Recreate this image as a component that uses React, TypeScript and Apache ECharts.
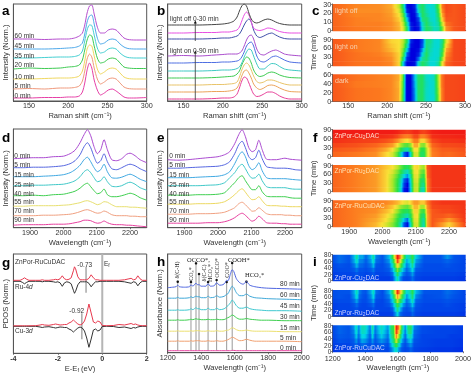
import React, { useEffect, useRef } from "react";
import * as echarts from "echarts";

const SANS = "'Liberation Sans', Arial, sans-serif";
const SERIF = "'Liberation Serif', serif";

// panel a
const aX = [130,150,170,190,200,208,214,218,221,224,227,230,233,237,241,246,251,256,261,266,271,276,285,300];
const a0 = [3,3,3.5,3.5,4,4,5,9,18,31,38,33,21,11,6,8,11,12,10,7,4,3,3,3.5];
const a5 = [12,12.5,12,13,13,13.5,15,20,30,42,47,44,33,22,17,19,22,23,22,18,14,12.5,12,12];
const a10 = [22,22,22.5,23,23,23.5,25,30,40,52,56,55,45,32,27,29,32,33,32,28,24,22.5,22,22];
const a20 = [32,33,32.5,33,34,34.5,36,41,51,61,66,65,55,43,38,39,42,43,42,38,34,33,32.5,32.5];
const a35 = [43,43,43.5,44,44,44.5,46,50,60,71,76,75.5,66,53,48,49,52,53,52,48,45,43.5,43,43];
const a45 = [52,52,52,52.5,53,53.5,55,58,67,79,85,86,77,63,57,58,61,62,61,57,54,52.5,52,52];
const a60 = [62,62,61.5,62,62,63,65,68,76,88,95,96,87,74,68,68,71,72,71,67,63,61.5,61,61];

// panel b
const bX = [130,150,170,190,200,208,214,218,221,224,227,230,233,236,239,243,247,252,257,262,267,272,278,285,300];
const bBlack = [76,76,76,76.5,77,78,80,84,90,95,97,95,88,82,79,78,79,81,82,81,79,77.5,76.5,76,76];
const bMagenta = [68,68,68.5,68.5,69,69,70,71,74,80,86,89,86,79,73,71,70.5,71.5,73,72.5,71,69.5,68.5,68,68];
const bNavy = [62,62,62,62.5,63,63,64,65,67,71,76,80,82,79,71,65,63.5,65,67,68,66,64,62.5,62,62];
const bPurple = [45,45.5,45,46,46.5,47,47,47,48,50,55,61,65,66,62,52,47,46,48,50,51,49.5,47,46,45];
const bBlue = [38,38,38.5,38.5,39,39,39.5,40,41,44,49,55,58,59,55,45,40,39,41,44,45,43.5,41,39,38];
const bTeal = [30,30,30,30.5,31,31,31.5,32.5,34,38,44,49,52,51,45,37,32,32,35,37.5,37,34.5,32,31,30];
const bGreen = [23,23,23,23.5,24,24.5,25,27,30,36,41,44,43,38,31,26,24.5,25.5,28,29,28,26,24.5,23.5,23];
const bYellow = [16,16,16,16.5,16.5,17,17.5,19,24,31,36,38,36,31,25,19.5,18,19,21,21,20,18.5,17,16,16];
const bOrange = [9,9,9,9.5,9.5,10,11,13,18,25,30,31,28,23,17,13,11.5,13,15.5,16,15,13,11,9.5,9];
const bPink = [2,2,2,2.5,3,3,4,7,13,20,24,23,18,12,7,4.5,5,7,9,9,7.5,5,3,2,2];

// panels d and e
const dX = [1850,1880,1910,1940,1970,2000,2020,2035,2050,2062,2072,2082,2092,2102,2112,2122,2132,2145,2160,2175,2190,2200,2215,2230,2250];
const d0 = [69,69.5,70,70,71,71.5,74,77.5,85,93,98,92,81,74,78,88,78,68,67,69,73.5,74.5,72,68,65];
const d5 = [60,60,60.5,60.5,61,62,64,67,73,81,85,80,71,64.5,67,74,66,59,58,60,62.5,63.5,62,59,56];
const d15 = [51,51,51,51.5,52,53,55,58,62.5,68,70.5,66,60,56,58,63.5,56,50,49.5,50.5,52.5,53.5,51.5,48.5,46];
const d25 = [42,42,42.5,42.5,43,43.5,45,47,51,56,58,55,50,46,47,51,46,41.5,41,42,44.5,45.5,43.5,40,37.5];
const d40 = [32,32,32.5,32,33,33.5,35,36.5,39.5,43,44.5,41,37,34,35,38.7,33,31,31,32,33.5,34.5,33,30,27.5];
const d55 = [21.5,21.5,22,22,22,22.5,23,24,25,26.5,27,26,24.5,23,24,26,25.5,23,21,21,21,20.5,20.5,20,19.5];
const d70 = [12,12,12,12.5,12.5,13,13.5,14.5,16,17.5,18,17,15.5,14.5,15,16.7,15.5,13,12,12,12,11.5,11.5,11,11];
const d90 = [2.5,3,3,3,3.5,3.5,4,5,6,7.5,7.5,7,5.5,4.5,5,6.7,5,3.5,3,3,2.5,2.5,2,1.5,1];
const e0 = [68,67.5,68,69,70,71,73,76,84,93,98,91,80,76,78,87.5,78,68.5,68,68,69,69.5,68.5,68,67.5];
const e5 = [59.5,59.5,60,60.5,61,61.5,63,66,74,83,86.5,80,71,68,70,77.5,69,61,60,59.5,59.5,59.5,59,58,57.5];
const e15 = [50,50,50,50.5,51,51.5,53,56,64,72,76,71,62,58,60,65,57,50,49,49,49,49,48.5,48,47.5];
const e25 = [42,42,42,42,42.5,43,45,50,55,61,63.5,59,53,49.5,50,53.5,47,41,40,40,40,40,39,38.5,38.5];
const e40 = [32.5,32.5,32.5,33,33,33.5,35,40,45,50,52,47,42,38,38,42,36,31.5,31,31,31,31,30,29.5,29.5];
const e55 = [23.5,23.5,23.5,24,24,24.5,26,29,33,37,39,35.5,31,28,28.5,31,27,22.5,22,22,21.5,21.5,21,21,21];
const e70 = [13.5,13.5,13.5,14,14,14.5,15.5,17.5,20,24,25.5,23,19.5,16.5,17,20,17.5,14,13,13,13,12.5,12.5,12,12];
const e90 = [4.5,4.5,4.5,4.5,5,5,6,7.5,10,13,14.5,12.5,9,6.5,8,11.5,9,5,4.5,4.5,4,4,3.5,3.5,3.5];

// panel g
const gX = [-4,-3.7,-3.6,-3.5,-3.4,-3.3,-3,-2.8,-2.7,-2.6,-2.4,-2.2,-2.1,-2,-1.9,-1.8,-1.7,-1.6,-1.5,-1.4,-1.3,-1.25,-1.2,-1.1,-1,-0.9,-0.8,-0.7,-0.6,-0.5,-0.4,-0.3,-0.2,-0.1,0,0.2,0.5,0.75,1,1.2,1.3,1.4,1.5,1.6,1.7,1.8,2];
const ruUp = [73,73,74,75.5,74,73,73,73,73.5,73,73,73.5,74,73.5,74.5,77.5,74.5,73.5,74,75.5,82.5,86.5,84.5,76.5,73.5,73.5,73.5,73.5,75,78.5,75.5,73.5,73.5,73,73,73,73,73,73.5,74.5,75,73.5,74,77.5,74.5,73,73];
const ruDown = [72,72,71,69.5,71,72,72,72,71.5,72,72,71.5,71,71.5,70.5,67,70.5,71.5,71,69.5,63,60,62,68.5,71.5,71.5,71.5,71.5,70,66.5,69.5,71.5,71.5,72,72,72,72,72,71.5,70.5,70,71.5,71,67.5,70.5,72,72];
const cuUp = [27.5,27.5,27.5,27.5,27.5,27.5,27.6,28.3,28.8,28.3,28,28.8,29.3,28.8,28.3,28.5,28.8,28.8,30.3,31.3,33.3,32.3,31.3,29.3,28.3,29.3,32.3,39.3,49.3,40.3,31.3,30.3,32.3,31.3,27.8,27.6,27.8,28.8,28.3,29.3,29.8,28.8,29.3,28.3,27.8,27.6,27.6];
const cuDown = [27,27,27,27,27,27,27,26.3,25.8,26.3,26.6,25.8,25.3,25.8,26.3,26.1,25.8,25.8,24.3,23.3,21.3,22.3,23.3,25.3,26.3,25.3,22.3,15.3,6,14.3,23.3,24.3,22.3,23.3,26.8,27,26.8,25.8,26.3,25.3,24.8,25.8,25.3,26.3,26.8,27,27];

// panel h
const hX = [1200,1230,1250,1260,1270,1300,1330,1339,1350,1369,1378,1387,1400,1428,1441,1455,1478,1492,1510,1530,1543,1552,1560,1575,1585,1595,1610,1630,1650,1670,1690,1720,1760,1800,1900,2000];
const h80 = [65,65.5,66,67.5,66,65.5,66,68,66.5,69.5,68,68,66.5,66.5,69,66.5,67,70,67.5,68,70,72.5,72,79,83,81,74,70,68.5,71,67.5,66,65,64.5,64,63.5];
const h60 = [54.5,54.5,54.5,55.5,54.5,54.5,55,56,55,56.5,56,56,55,55,56.5,55,55.5,57,55.5,56,57,58.5,59,64,66.5,65,60,57,57,58.7,56.5,55,54.5,54,53.5,53];
const h45 = [42.5,42.5,42.5,43,42.5,42.5,43,44,43,45,44,44,43,43,44.5,43,43,44.5,43,43.5,44.5,46,47,50,52.7,51,47,44.5,44.5,45.7,44,43,42.5,42,42,41.5];
const h30 = [32.5,32.5,32.5,33,32.5,32.5,33,33.5,33,34,33.5,33.5,33,33,33.5,33,33,33.5,33,33,33.5,34.5,35,36.5,37.7,37,35,33.5,33.5,34.2,33.5,33,32.5,32.5,32,32];
const h15 = [21.5,21.5,21.5,22,21.5,21.5,21.5,22,21.5,22,22,22,21.5,21.5,22,21.5,21.5,22,21.5,21.5,22,22.5,22.5,24,25,24.5,23,22,22,22.7,22,21.5,21.5,21.5,21,21];
const h5 = [11.5,11.5,11.5,12,11.5,11.5,11.5,12,11.5,12,12,12,11.5,11.5,12,11.5,11.5,12,11.5,11.5,12,12.5,13,14.5,15.5,15,13.5,12,12.3,13.5,12.5,11.5,11.5,11.5,11.5,11];
const h0 = [2,2,2,2,2,2,2,2,2,2,2,2,2,2,2,2,2,2,2,2,2,2,2,2,2.3,2.3,2,2,2,2,2,2,2,2,2,2];
const hPeakX = [1260,1339,1369,1387,1441,1492,1552,1585,1670];
const hPeakTop = [71,70.7,89.4,78.7,70.7,72.7,70.7,89.7,71];

// heat maps: each row runs from the top of its panel to the bottom
const cX = [130,160,190,205,215,220,225,230,235,240,245,250,255,260,265,270,275,285,300];
const cOff = [
  [88,83,82,78,62,40,2,0,5,35,42,30,27,30,50,85,92,90,92],
  [88,82,82,79,66,45,5,0,3,30,42,32,27,28,46,82,92,90,92],
  [88,83,83,80,70,52,15,0,1,20,42,35,28,27,42,78,91,90,92],
  [88,84,83,81,73,58,25,0,0,10,38,40,30,27,38,72,90,90,92],
  [88,84,84,82,76,63,35,3,0,6,30,42,33,28,34,62,86,90,92],
  [88,85,84,82,77,66,42,5,0,3,28,42,38,30,32,52,82,90,92],
];
const cOn = [
  [90,85,83,72,70,62,42,5,0,0,10,38,36,28,27,36,66,92,93],
  [90,85,83,74,70,60,35,2,0,0,12,38,34,28,27,38,72,92,93],
  [90,85,83,76,70,55,25,0,0,2,20,40,32,27,28,42,78,92,93],
  [90,86,84,80,72,50,12,0,0,5,28,42,30,27,28,46,82,92,93],
  [90,86,85,82,72,40,5,0,0,15,35,40,28,27,30,55,85,92,93],
  [90,86,85,83,72,25,0,0,2,30,42,36,27,27,34,68,88,92,93],
];
const cDark = [
  [90,86,84,83,78,55,0,0,20,40,42,30,27,30,55,85,92,92,93],
  [90,85,84,83,77,52,0,0,18,40,42,31,27,29,54,85,92,92,93],
  [90,86,85,83,78,50,0,0,16,40,42,30,27,29,52,84,92,92,93],
  [90,86,85,83,78,48,0,0,15,40,42,30,27,28,50,84,92,92,93],
];
const fX = [1850,1920,1980,2010,2030,2045,2055,2065,2075,2085,2095,2105,2115,2125,2135,2150,2180,2200,2250];
const fCu = [
  [99,99,99,99,99,98,96,95,94,95,97,97,94,93,95,98,99,99,99],
  [98,97,97,96,95,92,88,85,84,86,92,92,84,84,88,96,97,97,98],
  [96,94,93,91,88,82,76,72,70,75,85,85,72,72,80,92,95,95,96],
  [93,91,88,84,80,70,60,52,50,58,78,78,58,55,72,88,92,92,93],
  [90,88,84,78,70,58,45,36,32,45,70,70,46,44,66,85,89,89,91],
  [88,85,82,72,65,50,32,12,4,30,65,66,42,42,66,84,88,87,90],
];
const fRu = [
  [88,84,80,74,70,62,52,45,42,50,70,72,62,58,90,95,95,95,95],
  [88,84,80,72,66,55,45,35,30,42,68,70,55,50,88,95,95,95,95],
  [88,84,80,72,62,50,38,25,18,35,66,68,50,45,88,95,95,95,95],
  [88,84,80,72,60,46,32,12,5,30,64,66,42,40,85,95,95,95,95],
  [88,84,80,72,60,45,30,8,0,28,62,64,40,35,85,95,95,95,95],
  [88,84,80,72,60,45,28,3,0,25,62,64,35,30,85,95,95,95,95],
];
const fRuCu = [
  [88,84,84,83,80,76,72,68,66,72,80,80,74,74,85,93,95,95,95],
  [88,84,83,80,74,66,58,54,52,60,76,76,60,60,82,92,93,93,95],
  [88,84,82,76,70,58,48,44,42,50,72,72,50,46,80,90,92,92,95],
  [88,84,80,72,64,50,42,36,32,44,68,70,44,38,78,90,90,88,95],
  [88,84,78,70,60,46,36,22,14,38,66,68,42,32,78,90,86,80,95],
  [88,84,76,66,56,44,30,10,2,32,64,66,42,30,78,90,80,72,93],
];
const iX = [1200,1240,1300,1330,1345,1360,1380,1400,1430,1445,1460,1500,1540,1560,1575,1590,1605,1625,1645,1665,1680,1700,1750,1850,1890,1930,2000];
const iCu = [
  [10,14,11,22,35,20,20,13,22,34,16,11,22,45,72,100,85,55,28,34,46,24,11,11,18,11,9],
  [10,14,11,20,30,17,16,12,19,29,14,11,18,36,60,92,72,42,20,28,42,19,11,11,13,11,9],
  [9,11,10,15,22,14,13,11,15,22,11,10,14,28,48,72,55,32,16,22,35,15,10,10,11,10,9],
  [9,10,10,12,15,11,11,10,12,15,10,10,12,20,36,55,38,22,13,18,26,12,10,10,10,10,9],
  [8,9,9,10,12,10,10,9,10,12,9,9,10,14,26,42,26,15,11,13,19,10,9,9,9,9,8],
  [8,8,8,9,10,9,9,8,9,10,8,8,8,10,20,32,18,10,9,10,14,9,8,8,8,8,7],
];
const iRu = [
  [10,11,11,20,32,16,12,11,20,30,14,10,20,42,66,97,78,50,26,32,44,22,11,11,14,12,9],
  [10,11,10,18,28,14,11,10,17,26,12,10,16,32,54,80,62,38,18,27,39,17,10,11,13,11,9],
  [9,10,10,14,20,12,10,10,14,20,10,9,13,24,42,62,46,28,14,20,31,13,10,10,11,10,9],
  [8,9,9,11,14,10,9,9,11,14,9,9,11,17,30,47,32,18,12,15,23,11,9,9,10,9,8],
  [8,9,9,10,11,9,9,9,9,11,9,9,9,12,22,36,22,12,10,12,16,10,9,9,9,9,8],
  [8,8,8,9,9,9,8,8,8,9,8,8,8,9,16,26,14,10,9,9,13,9,8,8,8,8,7],
];
const iRuCu = [
  [9,13,11,18,30,16,32,30,15,35,15,30,18,42,45,100,85,40,16,40,42,16,10,9,9,9,8],
  [9,13,11,16,28,15,30,28,14,30,14,28,16,38,46,96,74,34,15,35,38,14,10,9,9,9,8],
  [9,12,11,14,24,13,26,24,12,26,12,24,14,34,45,85,60,28,13,28,32,13,9,9,9,8,8],
  [8,11,10,12,18,11,20,18,11,18,11,18,12,28,40,65,44,20,11,20,24,11,9,8,8,8,7],
  [8,9,9,11,14,10,14,13,10,14,10,13,10,21,32,47,30,14,10,14,18,10,9,8,8,8,7],
  [7,8,8,10,10,9,10,10,9,10,9,10,9,15,22,31,19,11,9,10,13,9,8,7,7,7,6],
];

const ramanTicks = [150, 200, 250, 300];
const waveTicks = [1900, 2000, 2100, 2200];
const aTimes = ["60 min", "45 min", "35 min", "20 min", "10 min", "5 min", "0 min"];
const dTimes = ["0 min", "5 min", "15 min", "25 min", "40 min", "55 min", "70 min", "90 min"];
const hTimes = ["80 min", "60 min", "45 min", "30 min", "15 min", "5 min", "0 min"];

const RAMP: [number, number[]][] = [
  [0, [0, 0, 222]], [12, [0, 90, 235]], [25, [0, 215, 230]], [45, [40, 225, 70]],
  [60, [170, 230, 40]], [70, [250, 225, 55]], [85, [252, 120, 30]], [100, [240, 20, 20]],
];
function ramp(v: number): string {
  for (let i = 1; i < RAMP.length; i++) {
    if (v <= RAMP[i][0]) {
      const [a, ca] = RAMP[i - 1];
      const [b, cb] = RAMP[i];
      const t = (v - a) / (b - a);
      return `rgb(${ca.map((c, k) => Math.round(c + (cb[k] - c) * t)).join(",")})`;
    }
  }
  return "rgb(240,20,20)";
}
function gradientStops(xs: number[], row: number[]) {
  const span = xs[xs.length - 1] - xs[0];
  const stops: { offset: number; color: string }[] = [];
  for (let i = 0; i < xs.length - 1; i++) {
    for (let k = 0; k < 5; k++) {
      const t = k / 5;
      stops.push({ offset: (xs[i] + (xs[i + 1] - xs[i]) * t - xs[0]) / span, color: ramp(row[i] + (row[i + 1] - row[i]) * t) });
    }
  }
  stops.push({ offset: 1, color: ramp(row[row.length - 1]) });
  return stops;
}

const grids: any[] = [];
const xAxes: any[] = [];
const yAxes: any[] = [];
const series: any[] = [];
const TICK = { color: "#333", fontSize: 7.2, fontFamily: SANS };
const NAME = { color: "#333", fontSize: 7.6, fontFamily: SANS };
const plain = (v: number) => String(v);

function panel(o: {
  left: number; top: number; right: number; bottom: number;
  xMin: number; xMax: number; xTicks?: number[]; xInterval?: number; xName?: string; showX?: boolean; xGap?: number; xMargin?: number;
  yMax: number; yInterval?: number; yName?: string; yGap?: number; frame?: boolean; xBold?: boolean; nameRich?: any; ySize?: number;
}) {
  const idx = grids.length;
  grids.push({
    left: o.left, top: o.top, width: o.right - o.left, height: o.bottom - o.top,
    show: o.frame !== false, borderColor: "#555", borderWidth: 1, backgroundColor: "transparent", containLabel: false,
  });
  const showX = o.showX !== false;
  xAxes.push({
    type: "value", gridIndex: idx, min: o.xMin, max: o.xMax, interval: o.xInterval,
    name: o.xName, nameLocation: "middle", nameGap: o.xGap ?? 10.8,
    nameTextStyle: { ...NAME, rich: o.nameRich },
    axisLine: { show: true, onZero: false, lineStyle: { color: "#555", width: 1 } },
    axisTick: { show: showX, length: 1.5, inside: false, lineStyle: { color: "#555", width: 0.8 }, ...(o.xTicks ? { customValues: o.xTicks } : {}) },
    axisLabel: { show: showX, margin: o.xMargin ?? 1.2, ...TICK, formatter: plain, fontWeight: o.xBold ? "bold" : "normal", hideOverlap: false, ...(o.xTicks ? { customValues: o.xTicks } : {}) },
    splitLine: { show: false },
  });
  const hasTicks = o.yInterval !== undefined;
  yAxes.push({
    type: "value", gridIndex: idx, min: 0, max: o.yMax, interval: o.yInterval,
    name: o.yName, nameLocation: "middle", nameGap: o.yGap ?? 4.4,
    nameTextStyle: NAME,
    axisLine: { show: true, onZero: false, lineStyle: { color: "#555", width: 1 } },
    axisTick: { show: hasTicks, length: 1.5, lineStyle: { color: "#555", width: 0.8 } },
    axisLabel: { show: hasTicks, margin: 1.5, ...TICK, fontSize: o.ySize ?? 7.2, hideOverlap: false, showMinLabel: true, showMaxLabel: true, formatter: plain },
    splitLine: { show: false },
  });
  return idx;
}
function line(g: number, xs: number[], ys: number[], color: string, width = 1, smooth: number | boolean = 0.25) {
  series.push({
    type: "line", xAxisIndex: g, yAxisIndex: g, data: xs.map((x, i) => [x, ys[i]]),
    symbol: "none", smooth, clip: true, lineStyle: { color, width }, silent: true, z: 3,
  });
}
function heat(g: number, xs: number[], rows: number[][], yMax: number) {
  const rowData = rows.map((_, i) => [xs[0], yMax - (yMax * i) / rows.length, yMax - (yMax * (i + 1)) / rows.length, i]);
  series.push({
    type: "custom", xAxisIndex: g, yAxisIndex: g, coordinateSystem: "cartesian2d", data: rowData, encode: { x: 0, y: 1 }, silent: true, z: 2,
    renderItem: (_p: any, api: any) => {
      const a = api.coord([xs[0], api.value(1)]);
      const b = api.coord([xs[xs.length - 1], api.value(2)]);
      return {
        type: "rect",
        shape: { x: a[0], y: a[1], width: b[0] - a[0], height: b[1] - a[1] + 0.6 },
        style: { fill: new echarts.graphic.LinearGradient(0, 0, 1, 0, gradientStops(xs, rows[api.value(3)])) },
      };
    },
  });
}

const L1 = 12.7, R1 = 146.7, L2 = 167.7, R2 = 301.7, L3 = 332.7, R3 = 465.7;
const CM = "(cm⁻¹)";
const TG = 15;

// a
let g = panel({ left: L1, right: R1, top: 4, bottom: 101, xMin: 130, xMax: 300, xTicks: ramanTicks, xName: `Raman shift ${CM}`, yMax: 97, yName: "Intensity (Norm.)" });
[[a0, "#e63fa6"], [a5, "#f0997c"], [a10, "#f0d860"], [a20, "#3ecb52"], [a35, "#45d0d2"], [a45, "#4fa9ea"], [a60, "#b64fcf"]].forEach(([d, c]: any) => line(g, aX, d, c));
// b
g = panel({ left: L2, right: R2, top: 4, bottom: 101, xMin: 130, xMax: 300, xTicks: ramanTicks, xName: `Raman shift ${CM}`, yMax: 97, yName: "Intensity (Norm.)" });
[[bPink, "#e63f98"], [bOrange, "#eba35a"], [bYellow, "#e8c368"], [bGreen, "#3ecb52"], [bTeal, "#3fc9c2"], [bBlue, "#4f6fe2"], [bPurple, "#aa4dcc"], [bNavy, "#3f4fa8"], [bMagenta, "#e84fe2"], [bBlack, "#444444"]].forEach(([d, c]: any) => line(g, bX, d, c));
series.push({ type: "line", xAxisIndex: g, yAxisIndex: g, symbol: "none", silent: true, z: 4, lineStyle: { color: "#333", width: 0.8 }, data: [{ value: [165, 60] }, { value: [165, 79], symbol: "triangle", symbolSize: 3, itemStyle: { color: "#111" } }] });
series.push({ type: "line", xAxisIndex: g, yAxisIndex: g, symbol: "none", silent: true, z: 4, lineStyle: { color: "#333", width: 0.8 }, data: [{ value: [165, 1] }, { value: [165, 49], symbol: "triangle", symbolSize: 3, itemStyle: { color: "#111" } }] });

// c
const cAx = { xMin: 130, xMax: 300, xTicks: ramanTicks };
g = panel({ left: L3, right: R3, top: 4, bottom: 30.7, ...cAx, showX: false, yMax: 30, yInterval: 10, frame: false }); heat(g, cX, cOff, 30);
g = panel({ left: L3, right: R3, top: 39, bottom: 65.7, ...cAx, showX: false, yMax: 90, yInterval: 30, yName: "Time (min)", yGap: TG, frame: false }); heat(g, cX, cOn, 90);
g = panel({ left: L3, right: R3, top: 74.3, bottom: 101, ...cAx, xName: `Raman shift ${CM}`, yMax: 60, yInterval: 20, frame: false }); heat(g, cX, cDark, 60);

// d, e
g = panel({ left: L1, right: R1, top: 129, bottom: 227.7, xMin: 1850, xMax: 2250, xTicks: waveTicks, xName: `Wavelength ${CM}`, yMax: 98.7, yName: "Intensity (Norm.)" });
[[d90, "#e63f9e"], [d70, "#f0a080"], [d55, "#e8e070"], [d40, "#3fcf50"], [d25, "#3fc8c8"], [d15, "#3fa8e2"], [d5, "#5566e0"], [d0, "#aa4bd0"]].forEach(([d, c]: any) => line(g, dX, d, c));
g = panel({ left: L2, right: R2, top: 129, bottom: 227.7, xMin: 1850, xMax: 2250, xTicks: waveTicks, xName: `Wavelength ${CM}`, yMax: 98.7, yName: "Intensity (Norm.)" });
[[e90, "#e63f9e"], [e70, "#f0a080"], [e55, "#ecd860"], [e40, "#3fcf50"], [e25, "#3fc8c8"], [e15, "#3fa8e2"], [e5, "#5566e0"], [e0, "#aa4bd0"]].forEach(([d, c]: any) => line(g, dX, d, c));

// f
const fAx = { xMin: 1850, xMax: 2250, xTicks: waveTicks };
g = panel({ left: L3, right: R3, top: 129.7, bottom: 156.3, ...fAx, showX: false, yMax: 90, yInterval: 30, frame: false }); heat(g, fX, fCu, 90);
g = panel({ left: L3, right: R3, top: 165, bottom: 191.7, ...fAx, showX: false, yMax: 90, yInterval: 30, yName: "Time (min)", yGap: TG, frame: false }); heat(g, fX, fRu, 90);
g = panel({ left: L3, right: R3, top: 200.3, bottom: 226.7, ...fAx, xName: `Wavelength ${CM}`, yMax: 90, yInterval: 30, frame: false }); heat(g, fX, fRuCu, 90);

// g
g = panel({ left: L1, right: R1, top: 254, bottom: 353.3, xMin: -4, xMax: 2, xInterval: 2, xBold: true, xName: "E-E{s|f} (eV)", nameRich: { s: { fontSize: 5.5, fontFamily: SANS, color: "#333", padding: [3, 0, 0, 0] } }, yMax: 99.3, yName: "PDOS (Norm.)" });
series.push({ type: "line", xAxisIndex: g, yAxisIndex: g, symbol: "none", silent: true, z: 2, lineStyle: { color: "#b5b5b5", width: 2 }, data: [[0, 0], [0, 99.3]] });
series.push({ type: "line", xAxisIndex: g, yAxisIndex: g, symbol: "none", silent: true, z: 2, lineStyle: { color: "#a8a8a8", width: 1.5 }, data: [[-0.73, 60.6], [-0.73, 86.6]] });
series.push({ type: "line", xAxisIndex: g, yAxisIndex: g, symbol: "none", silent: true, z: 2, lineStyle: { color: "#a8a8a8", width: 1.5 }, data: [[-0.92, 14], [-0.92, 40]] });
line(g, gX, ruDown, "#333333", 1, false);
line(g, gX, cuDown, "#333333", 1, false);
line(g, gX, ruUp, "#e8394e", 1, false);
line(g, gX, cuUp, "#e8394e", 1, false);

// h
g = panel({ left: L2, right: R2, top: 254, bottom: 352.7, xMin: 1200, xMax: 2000, xInterval: 200, xName: `Wavelength ${CM}`, yMax: 98.7, yName: "Absorbance (Norm.)" });
hPeakX.forEach((x, i) => {
  series.push({ type: "line", xAxisIndex: g, yAxisIndex: g, silent: true, z: 2, symbol: "none", lineStyle: { color: "#999", width: 1 }, data: [{ value: [x, 2] }, { value: [x, hPeakTop[i]], symbol: "circle", symbolSize: 2.5, itemStyle: { color: "#111" } }] });
});
[[h0, "#e63f9e"], [h5, "#f0a070"], [h15, "#ece070"], [h30, "#3fcf50"], [h45, "#3fc8d0"], [h60, "#3fa8d8"], [h80, "#4f66e0"]].forEach(([d, c]: any) => line(g, hX, d, c));

// i
const iAx = { xMin: 1200, xMax: 2000, xInterval: 200 };
g = panel({ left: L3, right: R3, top: 254.7, bottom: 280.7, ...iAx, showX: false, yMax: 80, yInterval: 20, frame: false, ySize: 6.4 }); heat(g, iX, iCu, 80);
g = panel({ left: L3, right: R3, top: 290, bottom: 316, ...iAx, showX: false, yMax: 80, yInterval: 20, yName: "Time (min)", yGap: TG, frame: false, ySize: 6.4 }); heat(g, iX, iRu, 80);
g = panel({ left: L3, right: R3, top: 325.3, bottom: 351.7, ...iAx, xMargin: 3, xGap: 11.5, xName: `Wavelength ${CM}`, yMax: 80, yInterval: 20, frame: false, ySize: 6.4 }); heat(g, iX, iRuCu, 80);

// free texts
const graphic: any[] = [];
function text(t: string, x: number, y: number, o: any = {}) {
  graphic.push({
    type: "text", x, y, rotation: o.rotation ?? 0, z: 20, silent: true,
    style: {
      text: t, fill: o.color ?? "#333", fontSize: o.size ?? 6.6, fontFamily: o.family ?? SANS, fontWeight: o.weight ?? "normal",
      textAlign: o.align ?? "left", textVerticalAlign: "middle", rich: o.rich,
    },
  });
}
[["a", 2, 10], ["b", 157, 10], ["c", 312, 10], ["d", 2, 137], ["e", 157, 137], ["f", 313, 137], ["g", 2, 262], ["h", 157, 261], ["i", 313, 261]].forEach(([t, x, y]: any) =>
  text(t, x, y, { size: 13.5, weight: "bold", color: "#000" }));
[35, 45, 55, 64.5, 76, 85.7, 95].forEach((y, i) => text(aTimes[i], 14.5, y));
[155, 164.3, 174.3, 184, 193.3, 201.7, 210.3, 219].forEach((y, i) => {
  text(dTimes[i], 14.2, y);
  text(dTimes[i], 169.3, y);
});
[283.5, 294, 305, 316, 327, 337, 347].forEach((y, i) => text(hTimes[i], 280, y));
text("light off 0-30 min", 170, 18);
text("light on 0-90 min", 170, 50);
const LIGHT = "#f7d2b0";
text("light off", 335, 10, { color: LIGHT, size: 7 });
text("light on", 335, 46, { color: LIGHT, size: 7 });
text("dark", 335, 80.5, { color: LIGHT, size: 7 });
const subOf = (c: string) => ({ s: { fontSize: 5, fontFamily: SANS, color: c, padding: [3, 0, 0, 0] } });
text("ZnPor-Cu{s|2}DAC", 334.5, 135, { color: "#ffd8c8", size: 6.5, rich: subOf("#ffd8c8") });
text("ZnPor-Ru{s|2}DAC", 334.5, 170, { color: "#ffe0b0", size: 6.5, rich: subOf("#ffe0b0") });
text("ZnPor-RuCuDAC", 334.5, 205.5, { color: "#ffe0b0", size: 6.5 });
text("ZnPor-Cu{s|2}DAC", 334.5, 277, { color: "#c8d0ff", size: 6.5, rich: subOf("#c8d0ff") });
text("ZnPor-Ru{s|2}DAC", 334.5, 312.5, { color: "#c8d0ff", size: 6.5, rich: subOf("#c8d0ff") });
text("ZnPor-RuCuDAC", 334.5, 347.5, { color: "#c8d0ff", size: 6.5 });
text("ZnPor-RuCuDAC", 15, 261, { size: 6.5 });
const ITALIC = { i: { fontStyle: "italic", fontSize: 6.5, fontFamily: SANS, color: "#333" } };
text("Ru-4{i|d}", 15, 286.5, { size: 6.5, rich: ITALIC });
text("Cu-3{i|d}", 15, 330, { size: 6.5, rich: ITALIC });
text("-0.73", 77.3, 264.5, { size: 6.5 });
text("-0.92", 69.3, 310.5, { size: 6.5 });
text("E{s|f}", 104, 263, { size: 6.5, rich: { s: { fontSize: 5, fontFamily: SANS, color: "#333", padding: [3, 0, 0, 0] } } });
const R90 = Math.PI / 2;
const serifRot = (t: string, x: number, y: number) => text(t, x, y, { rotation: R90, family: SERIF, size: 6, align: "center", color: "#222" });
serifRot("δ(C-H)", 177.3, 270);
serifRot("CO₃*", 191, 274);
serifRot("δ(C-C)", 203.5, 273);
serifRot("HCO₃*", 210, 273);
serifRot("OCCO*", 217, 268);
serifRot("COO*", 226.7, 270);
text("OCCO*,", 187, 259, { family: SERIF, size: 6.5, color: "#222" });
text("COOH*", 228, 259, { family: SERIF, size: 6.5, color: "#222" });
text("HCO₃*", 245, 274, { family: SERIF, size: 6.5, color: "#222" });

export default function App() {
  const ref = useRef<HTMLDivElement>(null);
  useEffect(() => {
    document.body.style.margin = "0";
    const chart = echarts.init(ref.current!, undefined, { renderer: "svg" });
    chart.setOption({ animation: false, backgroundColor: "#fff", grid: grids, xAxis: xAxes, yAxis: yAxes, series, graphic });
    return () => chart.dispose();
  }, []);
  return <div ref={ref} style={{ width: 474, height: 375, filter: "blur(0.35px)" }} />;
}
